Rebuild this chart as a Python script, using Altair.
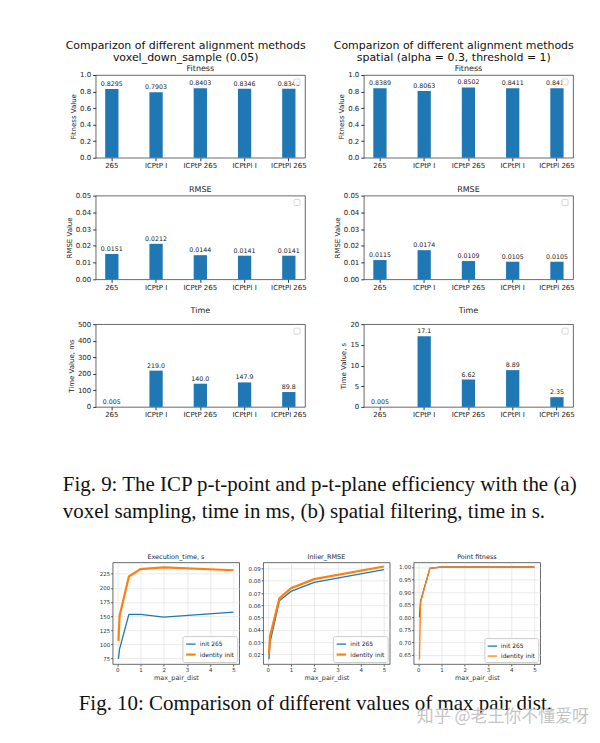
import altair as alt
import pandas as pd

# ---------------- data ----------------
methods = ["265", "ICPtP I", "ICPtP 265", "ICPtPl I", "ICPtPl 265"]

fit_voxel = [0.8295, 0.7903, 0.8403, 0.8346, 0.8346]
fit_spatial = [0.8389, 0.8063, 0.8502, 0.8411, 0.8411]
rmse_voxel = [0.0151, 0.0212, 0.0144, 0.0141, 0.0141]
rmse_spatial = [0.0115, 0.0174, 0.0109, 0.0105, 0.0105]
time_voxel_ms = [0.005, 219.0, 140.0, 147.9, 89.8]
time_spatial_s = [0.005, 17.1, 6.62, 8.89, 2.35]
time_voxel_labels = ["0.005", "219.0", "140.0", "147.9", "89.8"]
time_spatial_labels = ["0.005", "17.1", "6.62", "8.89", "2.35"]

max_pair_dist = [0.05, 0.1, 0.5, 1, 2, 5]
series_names = ["init 265", "identity init"]
exec_init265 = [74, 92, 153, 153, 148, 157]
exec_identity = [106, 150, 220, 233, 236, 231]
inlier_init265 = [0.016, 0.030, 0.0637, 0.0713, 0.0786, 0.089]
inlier_identity = [0.020, 0.035, 0.0656, 0.0740, 0.0813, 0.0916]
fitness_init265 = [0.800, 0.865, 0.995, 1.0, 1.0, 1.0]
fitness_identity = [0.632, 0.860, 0.995, 1.0, 1.0, 1.0]

caption9 = ["Fig. 9: The ICP p-t-point and p-t-plane efficiency with the (a)",
            "voxel sampling, time in ms, (b) spatial filtering, time in s."]
caption10 = ["Fig. 10: Comparison of different values of max pair dist."]
watermark = ["知乎 @老王你不懂爱呀"]

BLUE = "#1f77b4"
ORANGE = "#ff7f0e"
FONT = "DejaVu Sans"
SERIF = "Liberation Serif"
NOSTROKE = alt.ViewBackground(stroke="transparent")


def spacer(w, h):
    return alt.Chart(pd.DataFrame({"a": [0]})).mark_point(opacity=0, size=1).encode(
        x=alt.value(w / 2), y=alt.value(h / 2)
    ).properties(width=w, height=h, view=NOSTROKE)


def bar_panel(values, labels, title, ytitle, domain, ticks, fmt, height, title_offset=-2):
    df = pd.DataFrame({"method": methods, "value": values, "label": labels})
    x = alt.X("method:N", sort=methods, title=None,
              scale=alt.Scale(paddingInner=0.7, paddingOuter=0.215),
              axis=alt.Axis(labelAngle=0, labelFontSize=7, tickSize=3, domain=False,
                            labelPadding=1, labelColor="#222", tickColor="#333",
                            labelOverlap=False))
    y = alt.Y("value:Q", title=ytitle, scale=alt.Scale(domain=domain, nice=False, zero=True),
              axis=alt.Axis(values=ticks, tickCount=len(ticks), format=fmt, labelFontSize=7,
                            titleFontSize=7, grid=False, domain=False, tickSize=3,
                            labelPadding=2, titlePadding=3, titleFontWeight="normal",
                            labelOverlap=False, labelColor="#222", titleColor="#222",
                            tickColor="#333"))
    bars = alt.Chart(df).mark_bar(color=BLUE).encode(x=x, y=y)
    text = alt.Chart(df).mark_text(dy=-2, fontSize=6.3, color="#222", baseline="bottom",
                                   font=FONT).encode(x=alt.X("method:N", sort=methods),
                                                     y="value:Q", text="label:N")
    # matplotlib's empty legend box in the upper right corner
    legend_box = alt.Chart(pd.DataFrame({"a": [0]})).mark_rect(
        fill="white", stroke="#cccccc", strokeWidth=0.8, cornerRadius=1).encode(
        x=alt.value(199), x2=alt.value(205), y=alt.value(4), y2=alt.value(10))
    return alt.layer(bars, text, legend_box).properties(
        width=210, height=height,
        title=alt.TitleParams(title, fontSize=8, fontWeight="normal", offset=title_offset,
                              color="#222"))


def column(fit, rmse, tvals, tlabels, tdomain, tticks, ttitle, subtitle):
    f = bar_panel(fit, [f"{v:.4f}" for v in fit], "Fitness", "Fitness Value",
                  [0, 1.0], [0, 0.2, 0.4, 0.6, 0.8, 1.0], ".1f", 83)
    r = bar_panel(rmse, [f"{v:.4f}" for v in rmse], "RMSE", "RMSE Value",
                  [0, 0.05], [0, 0.01, 0.02, 0.03, 0.04, 0.05], ".2f", 84)
    t = bar_panel(tvals, tlabels, "Time", ttitle, tdomain, tticks, "d", 83, title_offset=5)
    return alt.vconcat(f, r, t, spacing=15).properties(title=alt.TitleParams(
        ["Comparizon of different alignment methods", subtitle],
        fontSize=11, fontWeight="normal", font=FONT, anchor="middle",
        offset=2, lineHeight=12, color="#111"))


left_col = column(fit_voxel, rmse_voxel, time_voxel_ms, time_voxel_labels,
                  [0, 500], [0, 100, 200, 300, 400, 500], "Time Value, ms",
                  "voxel_down_sample (0.05)")
right_col = column(fit_spatial, rmse_spatial, time_spatial_s, time_spatial_labels,
                   [0, 20], [0, 5, 10, 15, 20], "Time Value, s",
                   "spatial (alpha = 0.3, threshold = 1)")

bars_row = alt.hconcat(
    spacer(46, 1),
    alt.hconcat(left_col, right_col, spacing=26),
    spacing=17)


def text_block(lines, x, y0, dy, size, font, color, align="left"):
    df = pd.DataFrame({"t": lines, "i": list(range(len(lines)))})
    n = max(len(lines) - 1, 1)
    return alt.Chart(df).mark_text(align=align, baseline="middle", font=font,
                                   fontSize=size, color=color).encode(
        x=alt.value(x),
        y=alt.Y("i:Q", axis=None, scale=alt.Scale(domain=[0, n], range=[y0, y0 + dy * n])),
        text="t:N")


cap9 = text_block(caption9, 62, 65, 27, 21, SERIF, "#111").properties(
    width=600, height=132, view=NOSTROKE)


def line_panel(title, y1, y2, domain, ticks, fmt, widths):
    df = pd.DataFrame({
        "max_pair_dist": max_pair_dist * 2,
        "value": y1 + y2,
        "series": [series_names[0]] * len(y1) + [series_names[1]] * len(y2),
        "order": [0] * len(y1) + [1] * len(y2),
    })
    axis_common = dict(labelFontSize=5.5, titleFontSize=6.5, tickSize=2, domain=False,
                       gridColor="#dddddd", gridWidth=0.6, labelPadding=1,
                       titleFontWeight="normal", labelColor="#333", titleColor="#333",
                       tickColor="#555", labelOverlap=False)
    xticks = [0, 1, 2, 3, 4, 5]
    return alt.Chart(df).mark_line().encode(
        x=alt.X("max_pair_dist:Q", title="max_pair_dist",
                scale=alt.Scale(domain=[-0.2, 5.25], nice=False, zero=False),
                axis=alt.Axis(values=xticks, tickCount=len(xticks), format="d",
                              titlePadding=2, **axis_common)),
        y=alt.Y("value:Q", title=None, scale=alt.Scale(domain=domain, nice=False, zero=False),
                axis=alt.Axis(values=ticks, tickCount=len(ticks), format=fmt, **axis_common)),
        color=alt.Color("series:N", scale=alt.Scale(domain=series_names, range=[BLUE, ORANGE]),
                        legend=alt.Legend(title=None, orient="bottom-right", symbolType="stroke",
                                          fillColor="white", strokeColor="#cccccc",
                                          padding=2.5, offset=2, labelFontSize=6,
                                          symbolSize=90, symbolStrokeWidth=1.8,
                                          rowPadding=1, cornerRadius=2, labelColor="#222",
                                          labelOffset=3)),
        strokeWidth=alt.StrokeWidth("series:N", scale=alt.Scale(domain=series_names, range=widths),
                                    legend=None),
        order="order:Q",
        detail="series:N",
    ).properties(width=127, height=102,
                 title=alt.TitleParams(title, fontSize=6.5, fontWeight="normal", offset=2,
                                       color="#222"))


p1 = line_panel("Execution_time, s", exec_init265, exec_identity, [65, 245],
                [75, 100, 125, 150, 175, 200, 225], "d", [1.3, 2.2])
p2 = line_panel("Inlier_RMSE", inlier_init265, inlier_identity, [0.0121, 0.095],
                [0.02, 0.03, 0.04, 0.05, 0.06, 0.07, 0.08, 0.09], ".2f", [1.3, 2.2])
p3 = line_panel("Point fitness", fitness_init265, fitness_identity, [0.6136, 1.0184],
                [0.65, 0.70, 0.75, 0.80, 0.85, 0.90, 0.95, 1.00], ".2f", [1.3, 1.3])

lines_row = alt.hconcat(spacer(90, 1), p1, p2, p3, spacing=7).resolve_scale(
    color="independent", strokeWidth="independent")

cap10 = alt.layer(
    text_block(caption10, 78, 21, 0, 21, SERIF, "#111"),
    text_block(watermark, 590, 34, 0, 17, "Noto Sans CJK SC", "#c4c4c4", align="right"),
).resolve_scale(y="independent").properties(width=600, height=60, view=NOSTROKE)

chart = alt.vconcat(
    spacer(600, 36),
    bars_row,
    cap9,
    lines_row,
    cap10,
    spacing=0,
).resolve_scale(color="independent", strokeWidth="independent").properties(
    padding=0, background="white").configure_view(
    stroke="#444", strokeWidth=0.8
).configure_axis(labelFont=FONT, titleFont=FONT).configure_title(font=FONT).configure_legend(
    labelFont=FONT)

chart.save("out.html", embed_options={"renderer": "svg", "actions": False})
